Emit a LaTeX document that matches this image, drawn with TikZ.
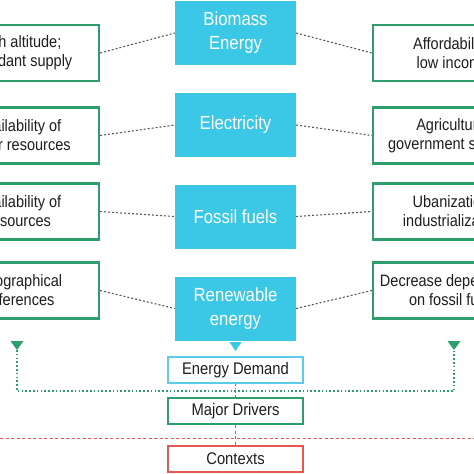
\documentclass[tikz,border=0pt]{standalone}
\usepackage{fontspec}
\setmainfont[FakeStretch=0.88]{Liberation Sans}
\definecolor{cblue}{HTML}{3BC8E6}
\definecolor{cblueline}{HTML}{5CCDE8}
\definecolor{cgreen}{HTML}{2E9E6C}
\definecolor{cred}{HTML}{E8574E}
\definecolor{cline}{HTML}{5A5A5A}
\definecolor{ctext}{HTML}{1E1E1E}
\begin{document}
\begin{tikzpicture}[x=1pt,y=-1pt,
 sidebox/.style={draw=cgreen, line width=2.2pt, fill=white, minimum width=160pt, minimum height=56pt, inner sep=0pt, align=center, text=ctext, font=\fontsize{16.5}{19}\selectfont},
 energybox/.style={fill=cblue, minimum width=121pt, minimum height=64pt, inner sep=0pt, align=center, text=white, font=\fontsize{19}{24}\selectfont},
 levelbox/.style={line width=2pt, fill=white, minimum width=135pt, minimum height=26pt, inner sep=0pt, text=ctext, font=\fontsize{16.8}{19}\selectfont},
 link/.style={draw=cline, line width=1.1pt, dash pattern=on 2pt off 2pt},
 gline/.style={draw=cgreen, line width=1.3pt, dash pattern=on 1.6pt off 2.2pt},
 rline/.style={draw=cred, line width=0.9pt, dash pattern=on 3pt off 2.5pt},
]
\useasboundingbox (0,0) rectangle (474,474);
\clip (0,0) rectangle (474,474);
\fill[white] (0,0) rectangle (474,474);

% centre column
\node[energybox] (e1) at (235.5,33) {Biomass\\Energy};
\node[energybox] (e2) at (235.5,125) {Electricity};
\node[energybox] (e3) at (235.5,216.5) {Fossil fuels};
\node[energybox] (e4) at (235.5,308.5) {Renewable\\energy};

% left boxes
\node[sidebox] (l1) at (19,53) {High altitude;\\abundant supply};
\node[sidebox] (l2) at (19,135.5) {Availability of\\water resources};
\node[sidebox] (l3) at (19,211.5) {Availability of\\resources};
\node[sidebox] (l4) at (19,290.5) {Geographical\\differences};

% right boxes
\node[sidebox] (r1) at (453,53) {Affordability;\\low income};
\node[sidebox] (r2) at (453,135.5) {Agriculture;\\government subsidy};
\node[sidebox] (r3) at (453,211.5) {Ubanization;\\industrialization};
\node[sidebox] (r4) at (453,290.5) {Decrease dependence\\on fossil fuels};

% connectors
\foreach \i in {1,2,3,4}{
  \draw[link] (l\i.east) -- (e\i.west);
  \draw[link] (e\i.east) -- (r\i.west);
}

% bottom levels
\node[levelbox, draw=cblueline] (ed) at (235.5,370) {Energy Demand};
\node[levelbox, draw=cgreen] (md) at (235.5,411) {Major Drivers};
\node[levelbox, draw=cred] (ct) at (235.5,459) {Contexts};

\fill[cblue] (229.5,342) -- (241.5,342) -- (235.5,351) -- cycle;

% green bracket
\coordinate (gl) at (17,350);
\coordinate (gr) at (454,350);
\coordinate (gbl) at (17,391);
\coordinate (gbr) at (454,391);
\draw[gline] (gl) -- (gbl) -- (gbr) -- (gr);
\fill[cgreen] (10.5,341) -- (23.5,341) -- (17,350) -- cycle;
\fill[cgreen] (447.5,341) -- (460.5,341) -- (454,350) -- cycle;

% red line
\coordinate (rl) at (0,438.5);
\coordinate (rr) at (474,438.5);
\draw[rline] (rl) -- (rr);

\draw[gline, line width=0.9pt] (ed.south) -- (md.north);
\draw[rline] (md.south) -- (ct.north);
\end{tikzpicture}
\end{document}
